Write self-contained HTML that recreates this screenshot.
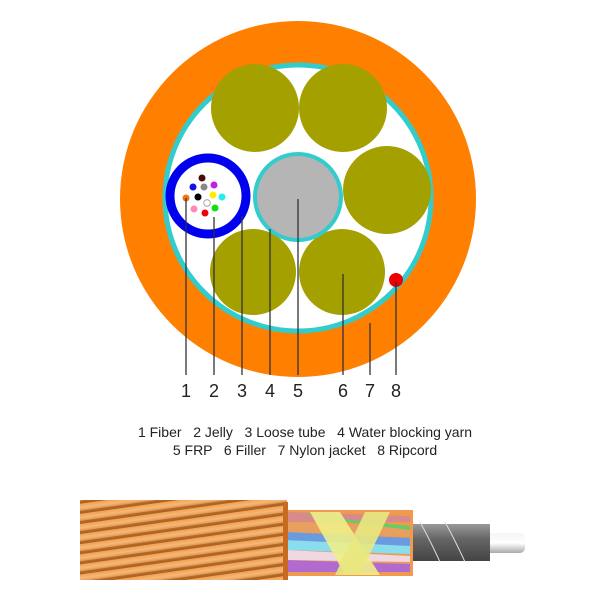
<!DOCTYPE html>
<html><head><style>body{margin:0;background:#fff}svg{display:block}.cap{white-space:pre}</style></head><body>
<svg width="600" height="600" viewBox="0 0 600 600" xmlns="http://www.w3.org/2000/svg">
<defs>
<linearGradient id="og" x1="0" y1="0" x2="0" y2="1">
<stop offset="0" stop-color="#f0a050"/><stop offset="0.4" stop-color="#f7b878"/><stop offset="1" stop-color="#c8742a"/></linearGradient>
<pattern id="st" width="40" height="10" patternUnits="userSpaceOnUse" patternTransform="rotate(-8)">
<rect width="40" height="10" fill="url(#og)"/><rect y="7" width="40" height="3" fill="#9a5216" opacity="0.6"/></pattern>
<linearGradient id="gg" x1="0" y1="0" x2="0" y2="1"><stop offset="0" stop-color="#999"/><stop offset="0.4" stop-color="#666"/><stop offset="1" stop-color="#444"/></linearGradient>
<linearGradient id="wg" x1="0" y1="0" x2="0" y2="1"><stop offset="0" stop-color="#f4f4f4"/><stop offset="0.5" stop-color="#fff"/><stop offset="1" stop-color="#aaa"/></linearGradient>
</defs>
<circle cx="298" cy="199" r="178" fill="#ff7f00"/>
<circle cx="298" cy="198" r="133" fill="#fff" stroke="#33cccc" stroke-width="5"/>
<g fill="#a3a000">
<circle cx="255" cy="108" r="44"/><circle cx="343" cy="108" r="44"/>
<circle cx="387" cy="190" r="44"/>
<circle cx="253" cy="272" r="43"/><circle cx="342" cy="272" r="43"/>
</g>
<circle cx="298" cy="197" r="43" fill="#b5b5b5" stroke="#33cccc" stroke-width="4"/>
<circle cx="208" cy="196" r="38" fill="#fff" stroke="#0000ee" stroke-width="9"/>
<g>
<circle cx="202" cy="178" r="3.5" fill="#4a0a0a"/><circle cx="193" cy="187" r="3.5" fill="#1010ee"/>
<circle cx="204" cy="187" r="3.5" fill="#888"/><circle cx="214" cy="185" r="3.5" fill="#c020e0"/>
<circle cx="186" cy="198" r="3.5" fill="#ee7711"/><circle cx="198" cy="197" r="3.5" fill="#000"/>
<circle cx="207" cy="203" r="3.3" fill="#fff" stroke="#999" stroke-width="0.8"/><circle cx="213" cy="195" r="3.5" fill="#ffee00"/>
<circle cx="222" cy="197" r="3.5" fill="#22eeee"/><circle cx="194" cy="209" r="3.5" fill="#ff88bb"/>
<circle cx="205" cy="213" r="3.5" fill="#ee0000"/><circle cx="215" cy="208" r="3.5" fill="#11dd11"/>
</g>
<circle cx="396" cy="280" r="7" fill="#ee0000"/>
<g stroke="#333" stroke-width="1.3">
<line x1="186" y1="198" x2="186" y2="375"/><line x1="214" y1="217" x2="214" y2="375"/>
<line x1="242" y1="216" x2="242" y2="375"/><line x1="270" y1="229" x2="270" y2="375"/>
<line x1="298" y1="199" x2="298" y2="375"/><line x1="343" y1="274" x2="343" y2="375"/>
<line x1="370" y1="323" x2="370" y2="375"/><line x1="396" y1="282" x2="396" y2="375"/>
</g>
<g font-family="Liberation Sans, sans-serif" font-size="18" fill="#222" text-anchor="middle">
<text x="186" y="397">1</text><text x="214" y="397">2</text><text x="242" y="397">3</text><text x="270" y="397">4</text>
<text x="298" y="397">5</text><text x="343" y="397">6</text><text x="370" y="397">7</text><text x="396" y="397">8</text>
</g>
<g font-family="Liberation Sans, sans-serif" font-size="14" fill="#222" text-anchor="middle">
<text class="cap" x="305" y="437">1 Fiber   2 Jelly   3 Loose tube   4 Water blocking yarn</text>
<text class="cap" x="305" y="455">5 FRP   6 Filler   7 Nylon jacket   8 Ripcord</text>
</g>
<rect x="485" y="533" width="40" height="20" rx="5" fill="url(#wg)"/>
<rect x="410" y="524" width="80" height="37" fill="url(#gg)"/>
<path d="M420 522 Q430 540 440 562 M445 522 Q455 540 465 562" stroke="#ddd" stroke-width="1" fill="none"/>
<g>
<rect x="285" y="510" width="128" height="66" fill="#ef9a50"/>
<path d="M285 512 L410 516 L410 522 L285 522Z" fill="#d88a8a"/>
<path d="M285 522 L410 528 L410 536 L285 532Z" fill="#e8a060"/>
<path d="M285 532 L410 538 L410 546 L285 540Z" fill="#6a9ae0"/>
<path d="M285 540 L410 546 L410 554 L285 550Z" fill="#88ddee"/>
<path d="M285 550 L410 556 L410 562 L285 560Z" fill="#f0d8e0"/>
<path d="M285 560 L410 564 L410 572 L285 572Z" fill="#b06ad0"/>
<path d="M300 514 L370 522 L410 526 L410 530 L330 520Z" fill="#66cc66"/>
<path d="M310 512 L340 512 L380 575 L345 575Z" fill="#eeee88" opacity="0.9"/>
<path d="M335 575 L360 575 L390 512 L365 512Z" fill="#e8e880" opacity="0.9"/>
</g>
<rect x="80" y="500" width="207" height="80" fill="url(#st)"/>
<rect x="283" y="502" width="5" height="78" fill="#c86a20"/>
</svg>
</body></html>
